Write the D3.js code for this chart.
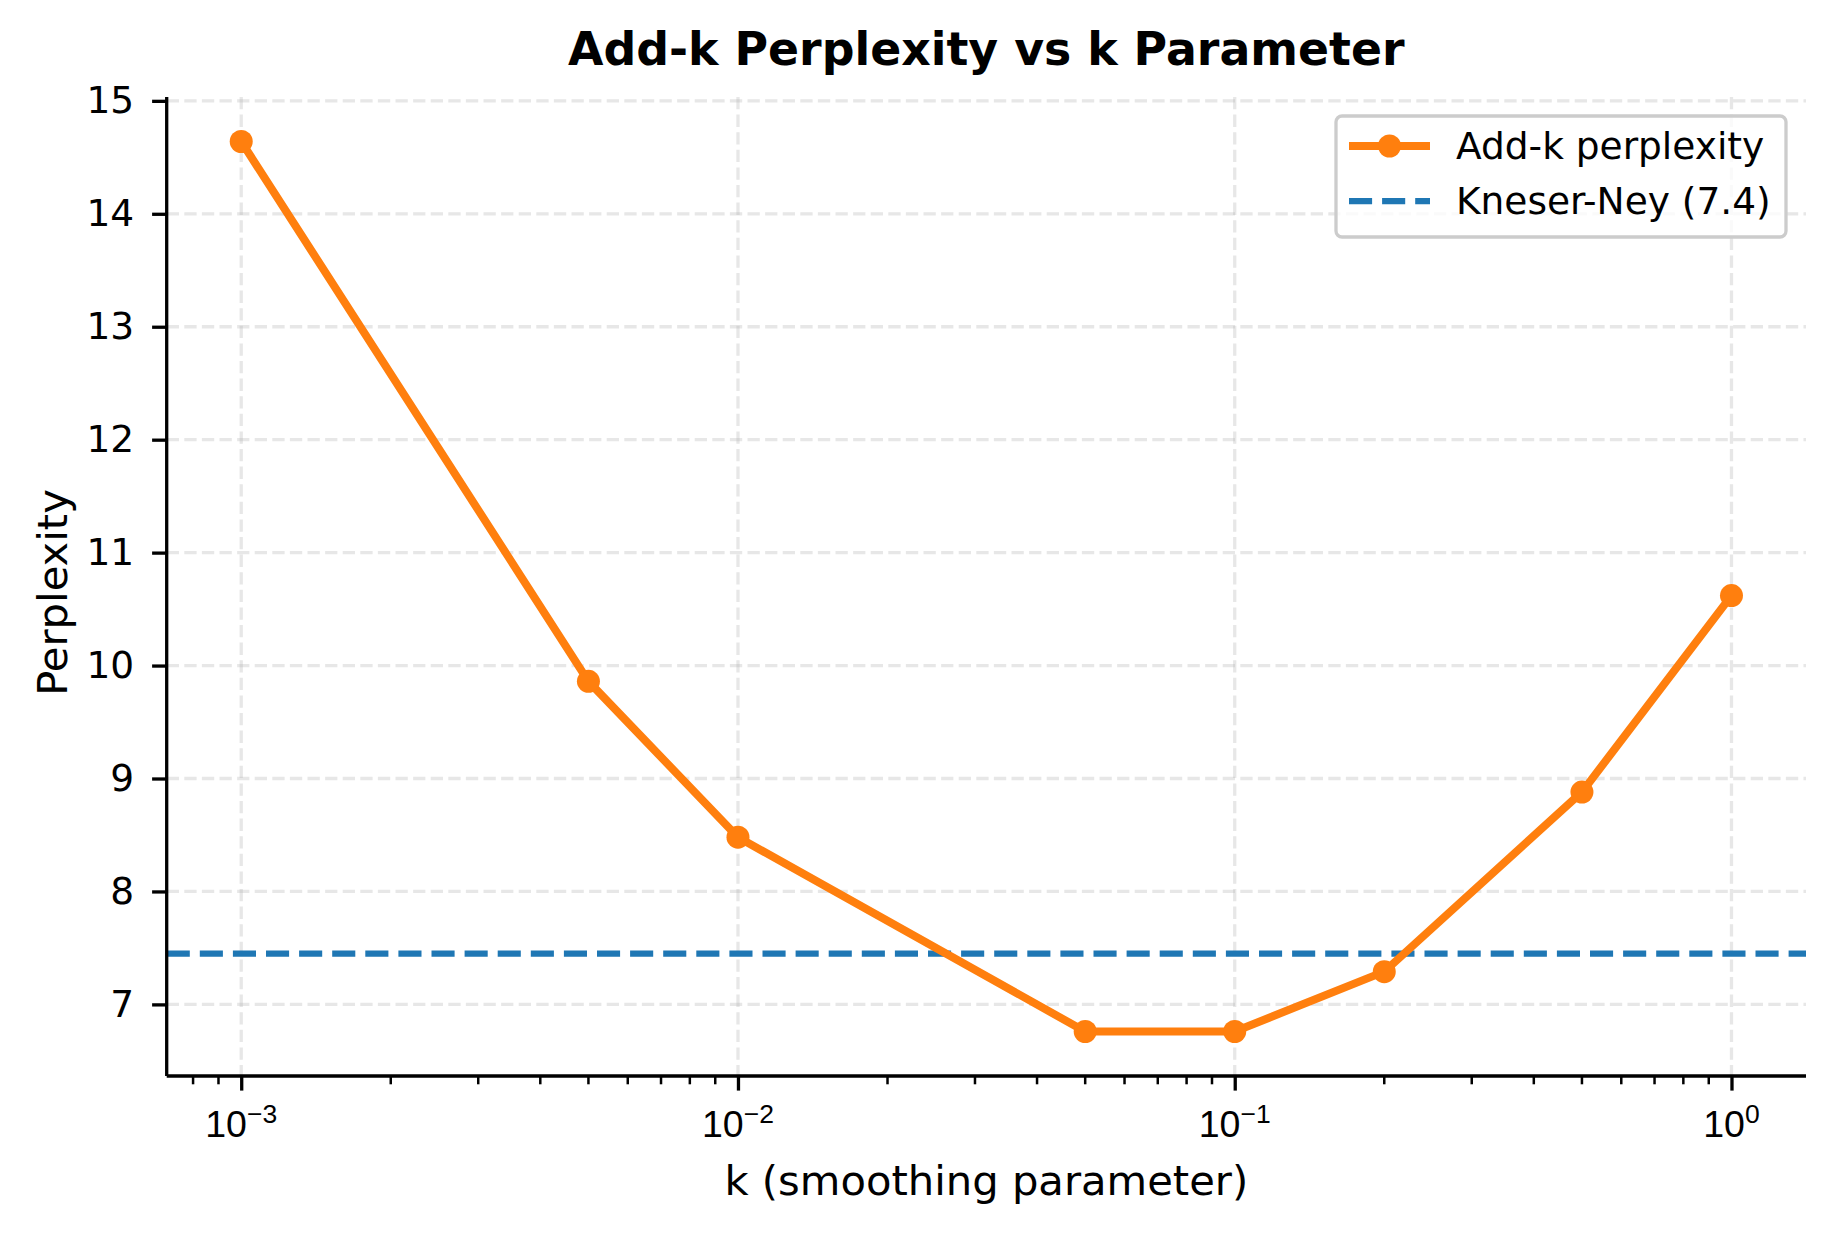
<!DOCTYPE html>
<html><head><meta charset="utf-8">
<script src="https://cdn.jsdelivr.net/npm/d3@7"></script>
<style>
html,body{margin:0;padding:0;background:#fff;}
svg{display:block;font-family:"DejaVu Sans",sans-serif;}
</style></head>
<body>
<svg id="chart" width="1834" height="1234"></svg>
<script>
const kValues = [0.001, 0.005, 0.01, 0.05, 0.1, 0.2, 0.5, 1.0];
const perplexity = [14.64, 9.86, 8.48, 6.76, 6.76, 7.29, 8.88, 10.62];
const knPerplexity = 7.45;
const xTickValues = [0.001, 0.01, 0.1, 1];
const xTickExps = ["\u22123", "\u22122", "\u22121", "0"];
const yTickValues = [7, 8, 9, 10, 11, 12, 13, 14, 15];
const seriesLabels = ["Add-k perplexity", "Kneser-Ney (7.4)"];
const titleText = "Add-k Perplexity vs k Parameter";
const xLabelText = "k (smoothing parameter)";
const yLabelText = "Perplexity";

const orange = "#ff7f0e", blue = "#1f77b4";
const M = {left: 166.7, right: 1806, top: 97, bottom: 1076};
const svg = d3.select("#chart");

// log x-domain with 5% margins in log space
const lx0 = Math.log10(d3.min(kValues)), lx1 = Math.log10(d3.max(kValues));
const mx = (lx1 - lx0) * 0.05;
const x = d3.scaleLog().domain([Math.pow(10, lx0 - mx), Math.pow(10, lx1 + mx)]).range([M.left, M.right]);
const ymin = d3.min(perplexity.concat([knPerplexity])), ymax = d3.max(perplexity.concat([knPerplexity]));
const my = (ymax - ymin) * 0.05;
const y = d3.scaleLinear().domain([ymin - my, ymax + my]).range([M.bottom, M.top]);

// grid
const grid = svg.append("g");
grid.selectAll("line.gx").data(xTickValues).join("line")
  .attr("x1", d => x(d)).attr("x2", d => x(d)).attr("y1", M.top).attr("y2", M.bottom)
  .attr("stroke", "#b0b0b0").attr("stroke-opacity", 0.3).attr("stroke-width", 3.3).attr("stroke-dasharray", "12.3,5.3");
grid.selectAll("line.gy").data(yTickValues).join("line")
  .attr("x1", M.left).attr("x2", M.right).attr("y1", d => y(d)).attr("y2", d => y(d))
  .attr("stroke", "#b0b0b0").attr("stroke-opacity", 0.3).attr("stroke-width", 3.3).attr("stroke-dasharray", "12.3,5.3");

// KN line
svg.append("line").attr("x1", M.left).attr("x2", M.right)
  .attr("y1", y(knPerplexity)).attr("y2", y(knPerplexity))
  .attr("stroke", blue).attr("stroke-width", 6.25).attr("stroke-dasharray", "23.1,10");

// orange line
const pts = kValues.map((k, i) => [k, perplexity[i]]);
svg.append("path").datum(pts)
  .attr("d", d3.line().x(d => x(d[0])).y(d => y(d[1])))
  .attr("fill", "none").attr("stroke", orange).attr("stroke-width", 8).attr("stroke-linejoin", "round").attr("stroke-linecap", "square");
svg.selectAll("circle.pt").data(pts).join("circle")
  .attr("cx", d => x(d[0])).attr("cy", d => y(d[1])).attr("r", 11.5).attr("fill", orange);

// axes
const xAxis = svg.append("g").attr("transform", `translate(0,${M.bottom})`);
xAxis.call(d3.axisBottom(x).tickValues(xTickValues).tickSize(14.6).tickFormat(""));
xAxis.select(".domain").attr("stroke-width", 3.3).attr("d", `M${M.left},0H${M.right}`);
xAxis.selectAll(".tick line").attr("stroke-width", 3.3);
// minor ticks
const minors = [];
for (let e = -4; e <= 0; e++) for (let m = 2; m <= 9; m++) {
  const v = m * Math.pow(10, e);
  if (v >= x.domain()[0] && v <= x.domain()[1]) minors.push(v);
}
xAxis.selectAll("line.minor").data(minors).join("line")
  .attr("x1", d => x(d)).attr("x2", d => x(d)).attr("y1", 0).attr("y2", 8.3)
  .attr("stroke", "#000").attr("stroke-width", 2.5);
// x tick labels
const xl = xAxis.selectAll("text.xl").data(xTickValues).join("text")
  .attr("x", d => x(d)).attr("y", 61).attr("text-anchor", "middle")
  .attr("font-size", 37.5).attr("fill", "#000");
xl.append("tspan").text("10");
xl.append("tspan").attr("dy", -14).attr("font-size", 26.5).text((d, i) => xTickExps[i]);

const yAxis = svg.append("g").attr("transform", `translate(${M.left},0)`);
yAxis.call(d3.axisLeft(y).tickValues(yTickValues).tickSize(14.6).tickPadding(18).tickFormat(d3.format("d")));
yAxis.select(".domain").attr("stroke-width", 3.3).attr("d", `M0,${M.top}V${M.bottom}`);
yAxis.selectAll(".tick line").attr("stroke-width", 3.3);
yAxis.selectAll(".tick text").attr("font-size", 37.5).attr("font-family", "DejaVu Sans").attr("fill", "#000");

// labels
svg.append("text").attr("x", (M.left + M.right) / 2).attr("y", 65).attr("text-anchor", "middle")
  .attr("font-size", 45.8).attr("font-weight", "bold").text(titleText);
svg.append("text").attr("x", (M.left + M.right) / 2).attr("y", 1195).attr("text-anchor", "middle")
  .attr("font-size", 41.7).text(xLabelText);
svg.append("text").attr("transform", `translate(66.7,${(M.top + M.bottom) / 2 + 6}) rotate(-90)`)
  .attr("text-anchor", "middle").attr("font-size", 41.7).text(yLabelText);

// legend
const lg = svg.append("g");
lg.append("rect").attr("x", 1336).attr("y", 116).attr("width", 450).attr("height", 121)
  .attr("rx", 6).attr("fill", "#fff").attr("fill-opacity", 0.8).attr("stroke", "#cccccc").attr("stroke-width", 3.3);
const ey = [146, 201];
lg.append("line").attr("x1", 1349).attr("x2", 1430).attr("y1", ey[0]).attr("y2", ey[0])
  .attr("stroke", orange).attr("stroke-width", 8);
lg.append("circle").attr("cx", 1389.5).attr("cy", ey[0]).attr("r", 11.5).attr("fill", orange);
lg.append("line").attr("x1", 1349).attr("x2", 1430).attr("y1", ey[1]).attr("y2", ey[1])
  .attr("stroke", blue).attr("stroke-width", 6.25).attr("stroke-dasharray", "23.1,10");
lg.selectAll("text.lt").data(seriesLabels).join("text")
  .attr("x", 1456).attr("y", (d, i) => ey[i]).attr("dy", "0.35em")
  .attr("font-size", 37.5).text(d => d);
</script>
</body></html>
